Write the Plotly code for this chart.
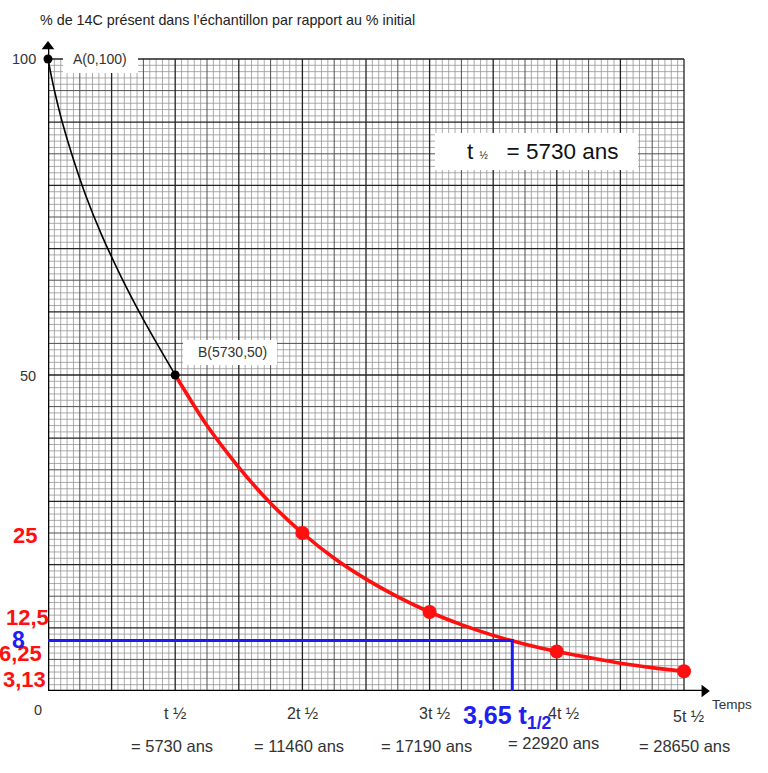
import plotly.graph_objects as go

T_HALF = 5730

# Black part of the curve (years, % of 14C)
black_t = [0, 150, 350, 650, 1100, 1700, 2400, 3300, 4200, 5000, 5730]
black_v = [100, 97.3, 94.1, 89.9, 84.6, 78.4, 72.3, 65.5, 59.4, 54.4, 50]

# Red part of the curve
red_t = [5730, 7162, 8595, 10028, 11460, 12892, 14325, 15758, 17190,
         18622, 20055, 21488, 22920, 24352, 25785, 27218, 28650]
red_v = [50, 42.0, 35.4, 29.7, 25, 21.0, 17.7, 14.9, 12.5,
         10.5, 8.8, 7.4, 6.25, 5.3, 4.4, 3.7, 3.13]

# Marked points
red_dot_t = [11460, 17190, 22920, 28650]
red_dot_v = [25, 12.5, 6.25, 3.13]
black_dot_t = [0, 5730]
black_dot_v = [100, 50]

# Blue reading
blue_level = 8
blue_time = 3.65 * T_HALF

# Labels
x_tick_vals = [5730, 11460, 17190, 22920, 28650]
x_tick_labels = ["t ½", "2t ½", "3t ½", "4t ½", "5t ½"]
x_year_labels = ["= 5730 ans", "= 11460 ans", "= 17190 ans", "= 22920 ans", "= 28650 ans"]
red_y_labels = ["25", "12,5", "6,25", "3,13"]

# ---------------- layout geometry (pixels) ----------------
W, H = 768, 773
L, R, T, B = 48, 48, 30, 82
X0PX, XENDPX = 48, 684          # x=0 and x=28650
Y0PX, Y100PX = 691, 59          # y=0 and y=100
xscale = (XENDPX - X0PX) / 28650.0
yscale = (Y0PX - Y100PX) / 100.0
X_MAX = (W - R - L) / xscale
Y_MAX = (H - B - T) / yscale
X_ARROW = (711 - X0PX) / xscale
Y_ARROW = (Y0PX - 39) / yscale


def px(x):
    return (x - L) / (W - L - R)


def py(y):
    return (H - B - y) / (H - B - T)


FONT = "Liberation Sans, Arial, sans-serif"

fig = go.Figure()

# ---------------- millimetre-paper grid ----------------
def add_grid(xs_list, ys_list, color, width):
    gx, gy = [], []
    for xv in xs_list:
        gx += [xv, xv, None]
        gy += [0, 100, None]
    for yv in ys_list:
        gx += [0, 28650, None]
        gy += [yv, yv, None]
    fig.add_trace(go.Scatter(x=gx, y=gy, mode="lines",
                             line=dict(color=color, width=width),
                             hoverinfo="skip", showlegend=False))

step = T_HALF / 20.0
minor_x = [i * step for i in range(101) if i % 5 != 0]
mid_x = [i * step for i in range(101) if i % 5 == 0 and i % 10 != 0]
major_x = [i * step for i in range(101) if i % 10 == 0]
minor_y = [i for i in range(101) if i % 5 != 0]
mid_y = [i for i in range(101) if i % 5 == 0 and i % 10 != 0]
major_y = [i for i in range(101) if i % 10 == 0]

add_grid(minor_x, minor_y, "#969696", 0.8)
add_grid(mid_x, mid_y, "#505050", 1.0)
add_grid(major_x, major_y, "#222222", 1.3)

# ---------------- axes with arrow heads ----------------
fig.add_trace(go.Scatter(x=[0, X_ARROW - 300], y=[0, 0], mode="lines",
                         line=dict(color="black", width=2.6),
                         hoverinfo="skip", showlegend=False, cliponaxis=False))
fig.add_trace(go.Scatter(x=[0, 0], y=[0, Y_ARROW - 1.2], mode="lines",
                         line=dict(color="black", width=2.6),
                         hoverinfo="skip", showlegend=False, cliponaxis=False))
fig.add_trace(go.Scatter(x=[X_ARROW - 300], y=[0], mode="markers",
                         marker=dict(symbol="triangle-right", color="black", size=11),
                         hoverinfo="skip", showlegend=False, cliponaxis=False))
fig.add_trace(go.Scatter(x=[0], y=[Y_ARROW - 1.2], mode="markers",
                         marker=dict(symbol="triangle-up", color="black", size=11),
                         hoverinfo="skip", showlegend=False, cliponaxis=False))

# ---------------- curves ----------------
fig.add_trace(go.Scatter(x=black_t, y=black_v, mode="lines",
                         line=dict(color="black", width=1.6, shape="spline", smoothing=0.8),
                         hoverinfo="skip", showlegend=False))
fig.add_trace(go.Scatter(x=red_t, y=red_v, mode="lines",
                         line=dict(color="#ff1010", width=3.6, shape="spline", smoothing=0.8),
                         hoverinfo="skip", showlegend=False))

# blue reading lines
fig.add_trace(go.Scatter(x=[0, blue_time, blue_time], y=[blue_level, blue_level, -1.0],
                         mode="lines", line=dict(color="#1c1cf0", width=3),
                         hoverinfo="skip", showlegend=False, cliponaxis=False))

fig.add_trace(go.Scatter(x=red_dot_t, y=red_dot_v, mode="markers",
                         marker=dict(color="#ff1010", size=14),
                         hoverinfo="skip", showlegend=False, cliponaxis=False))
fig.add_trace(go.Scatter(x=black_dot_t, y=black_dot_v, mode="markers",
                         marker=dict(color="black", size=9),
                         hoverinfo="skip", showlegend=False, cliponaxis=False))

# ---------------- white label boxes ----------------
shapes = []
for (x1, y1, x2, y2) in [(63, 46, 138, 73), (183, 340, 277, 365), (435, 133, 638, 170)]:
    shapes.append(dict(type="rect", xref="paper", yref="paper",
                       x0=px(x1), x1=px(x2), y0=py(y2), y1=py(y1),
                       fillcolor="white", line=dict(width=0), layer="above"))

annotations = []


def txt(text, x, y, size, color="#222", xanchor="center", bold=False, font=FONT):
    if bold:
        text = "<b>" + text + "</b>"
    annotations.append(dict(text=text, x=px(x), y=py(y), xref="paper", yref="paper",
                            xanchor=xanchor, yanchor="middle", showarrow=False,
                            font=dict(family=font, size=size, color=color)))


# title
txt("% de 14C présent dans l’échantillon par rapport au % initial", 38, 20, 14.3, "#222", "left")

# y tick labels
txt("100", 24, 59, 14.5, "#333")
txt("50", 28, 376, 14.5, "#333")
txt("0", 38, 710, 14.5, "#333")

# point labels
txt("A(0,100)", 100, 59, 14, "#333")
txt("B(5730,50)", 232, 352, 14, "#333")

# half-life box
annotations.append(dict(text="t <span style='font-size:10px'>½</span>   = 5730 ans",
                        x=px(465), y=py(151), xref="paper", yref="paper",
                        xanchor="left", yanchor="middle", showarrow=False,
                        font=dict(family=FONT, size=22.5, color="#111")))

# red y labels
red_y_pos = [(25, 535), (27, 617), (21, 653), (24, 679)]
for lab, (x, y) in zip(red_y_labels, red_y_pos):
    txt(lab, x, y, 22, "#ff1010", bold=True)
txt("8", 18, 640, 23, "#2020f0", bold=True)

# x labels
tick_px = [X0PX + v * xscale for v in x_tick_vals]
tick_y = [714, 714, 714, 713, 716]
year_y = [746, 746, 746, 743, 746]
tick_dx = [0, 0, 5, 7, 4]
for i, (lab, yl) in enumerate(zip(x_tick_labels, x_year_labels)):
    txt(lab, tick_px[i] + tick_dx[i], tick_y[i], 16, "#333")
    txt(yl, tick_px[i] - 3 + (3 if i == 4 else 0), year_y[i], 16.5, "#333")

# blue result
annotations.append(dict(text="<b>3,65 t<sub>1/2</sub></b>",
                        x=px(461), y=py(717), xref="paper", yref="paper",
                        xanchor="left", yanchor="middle", showarrow=False,
                        font=dict(family=FONT, size=25, color="#2020f0")))

txt("Temps", 732, 704, 13.5, "#333")

fig.update_layout(
    width=W, height=H,
    margin=dict(l=L, r=R, t=T, b=B, pad=0),
    paper_bgcolor="white", plot_bgcolor="white",
    showlegend=False,
    xaxis=dict(range=[0, X_MAX], visible=False, fixedrange=True),
    yaxis=dict(range=[0, Y_MAX], visible=False, fixedrange=True),
    shapes=shapes,
    annotations=annotations,
)

fig.write_html("out.html")
